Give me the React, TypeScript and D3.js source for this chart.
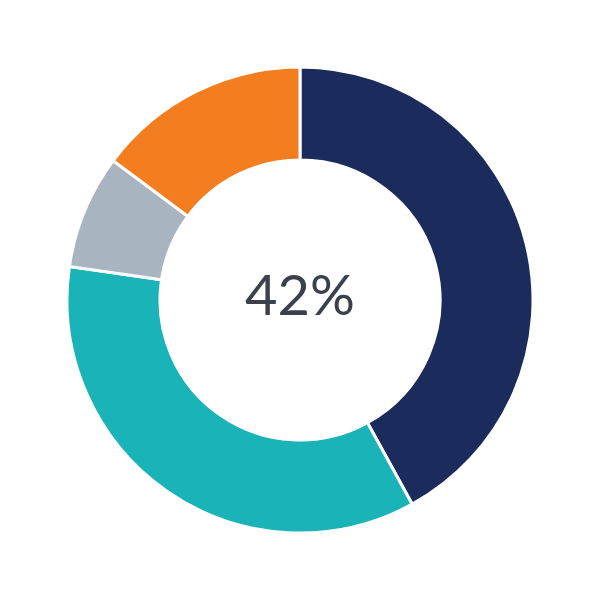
import { useEffect, useRef } from "react";
import * as d3 from "d3";

const categories = ["A", "B", "C", "D"];
const values = [42, 35.3, 7.9, 14.8];
const colors = ["#1b2b5b", "#1ab4b8", "#a9b4c1", "#f47d20"];
const centerLabel = "42%";

export default function App() {
  const svgRef = useRef<SVGSVGElement | null>(null);
  const width = 600;
  const height = 600;

  useEffect(() => {
    if (!svgRef.current) return;
    const svg = d3.select(svgRef.current);
    svg.selectAll("*").remove();

    const g = svg
      .append("g")
      .attr("transform", `translate(${width / 2}, ${height / 2})`);

    const data = categories.map((c, i) => ({ categoria: c, valor: values[i] }));

    const pie = d3
      .pie<{ categoria: string; valor: number }>()
      .sort(null)
      .value((d) => d.valor);

    const arc = d3
      .arc<d3.PieArcDatum<{ categoria: string; valor: number }>>()
      .innerRadius(140)
      .outerRadius(233);

    g.selectAll("path")
      .data(pie(data))
      .enter()
      .append("path")
      .attr("d", arc as any)
      .attr("fill", (_d, i) => colors[i])
      .attr("stroke", "#fff")
      .style("stroke-width", "3px");

    g.append("text")
      .attr("text-anchor", "middle")
      .attr("y", 15)
      .attr("font-family", "Lato, sans-serif")
      .attr("font-size", "56px")
      .attr("fill", "#3a404c")
      .text(centerLabel);
  }, []);

  return (
    <div style={{ position: "absolute", left: 0, top: 0 }}>
      <svg ref={svgRef} width={width} height={height} style={{ display: "block", background: "#fff" }}></svg>
    </div>
  );
}
